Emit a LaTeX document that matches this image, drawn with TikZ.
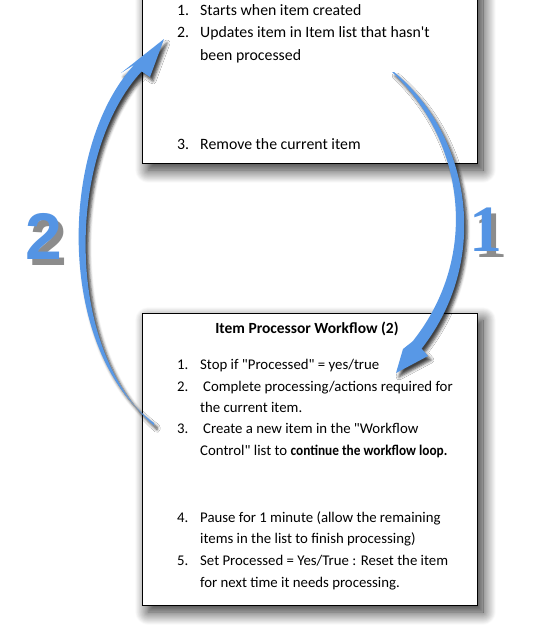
\documentclass[tikz,border=0pt]{standalone}
\usepackage{fontspec}
\usepackage{graphicx}
\setmainfont{Carlito}[Ligatures=TeXOff]
\newfontfamily\digitsans{Liberation Sans}
\newfontfamily\digitserif{Liberation Serif}
\usetikzlibrary{shadows.blur}
\definecolor{arrowblue}{RGB}{88,152,230}
\definecolor{digitblue}{RGB}{84,148,228}
\begin{document}
\begin{tikzpicture}[x=1pt,y=-1pt,
  box/.style={draw=black, line width=0.8pt, fill=white, inner sep=0pt,
    blur shadow={shadow xshift=6pt, shadow yshift=-7pt, shadow blur radius=13pt, shadow blur steps=20, shadow opacity=85}},
  txt/.style={anchor=mid west, inner sep=0pt, font=\fontsize{14.8}{18}\selectfont},
  ttxt/.style={anchor=mid west, inner sep=0pt, font=\fontsize{15.8}{18}\selectfont},
  ttl/.style={anchor=mid, inner sep=0pt, font=\fontsize{15.5}{18}\selectfont\bfseries},
  arrowfill/.style={fill=arrowblue,
    blur shadow={shadow xshift=3pt, shadow yshift=-4pt, shadow blur radius=3pt, shadow opacity=75}},
  digitshadow/.style={inner sep=0pt, text=black, opacity=0.45},
  digit/.style={inner sep=0pt, text=digitblue}]
\useasboundingbox (0,0) rectangle (548,630);

% boxes
\node[box, minimum width=335pt, minimum height=180pt] (topbox) at (309.5,73) {};
\node[box, minimum width=335pt, minimum height=292pt] (botbox) at (309.5,459) {};

% top box text
\node[ttxt] (t1n) at (177,13) {1.};
\node[ttxt] (t1) at (200,13) {Starts when item created};
\node[ttxt] (t2n) at (177,35) {2.};
\node[ttxt] (t2) at (200,35) {Updates item in Item list that hasn't};
\node[ttxt] (t2b) at (200,58) {been processed};
\node[ttxt] (t3n) at (177,147) {3.};
\node[ttxt] (t3) at (200,147) {Remove the current item};

% bottom box text
\node[ttl] (title) at (307,331) {Item Processor Workflow (2)};
\node[txt] (b1n) at (177,367) {1.};
\node[txt] (b1) at (200,367) {Stop if "Processed" = yes/true};
\node[txt] (b2n) at (177,389) {2.};
\node[txt] (b2) at (203,389) {Complete processing/actions required for};
\node[txt] (b2b) at (200,410) {the current item.};
\node[txt] (b3n) at (177,431) {3.};
\node[txt] (b3) at (203,431) {Create a new item in the "Workflow};
\node[txt] (b3b) at (200,453) {Control" list to \scalebox{0.9}[1]{\bfseries continue the workflow loop.}};
\node[txt] (b4n) at (177,520) {4.};
\node[txt] (b4) at (200,520) {Pause for 1 minute (allow the remaining};
\node[txt] (b4b) at (200,541) {items in the list to finish processing)};
\node[txt] (b5n) at (177,563) {5.};
\node[txt] (b5) at (200,563) {Set Processed = Yes/True : Reset the item};
\node[txt] (b5b) at (200,585) {for next time it needs processing.};

% arrow 1 (top box -> bottom box)
\coordinate (a1tail) at (394,72);
\coordinate (a1tip) at (396,373);
\fill[arrowfill] (a1tail) .. controls (468,133) and (493.4,256.5) .. (421.6,348.6)
  -- (428,356) -- (a1tip) -- (403,349) -- (412.6,341.4)
  .. controls (482.6,253.5) and (462,137) .. ([xshift=-2pt]a1tail) -- cycle;

% arrow 2 (bottom box -> top box)
\coordinate (a2tail) at (154,423);
\coordinate (a2tip) at (164,39);
\fill[arrowfill] (a2tail) .. controls (56.8,351.5) and (57.3,148) .. (134.4,64.6)
  -- (121,73) -- (a2tip) -- (150,77) -- (141.6,71.4)
  .. controls (66.7,152) and (63.2,348.5) .. ([yshift=-2.5pt]a2tail) -- cycle;

% digits with soft shadows
\node[digitshadow, font=\digitsans\bfseries\fontsize{66}{66}\selectfont] (twoshadow) at (49,242) {2};
\node[digitshadow, font=\digitserif\bfseries\fontsize{66}{66}\selectfont] (oneshadow) at (491,236) {1};
\node[digit, font=\digitsans\bfseries\fontsize{66}{66}\selectfont] (two) at (44,236) {2};
\node[digit, font=\digitserif\bfseries\fontsize{66}{66}\selectfont] (one) at (486,230) {1};
\end{tikzpicture}
\end{document}
